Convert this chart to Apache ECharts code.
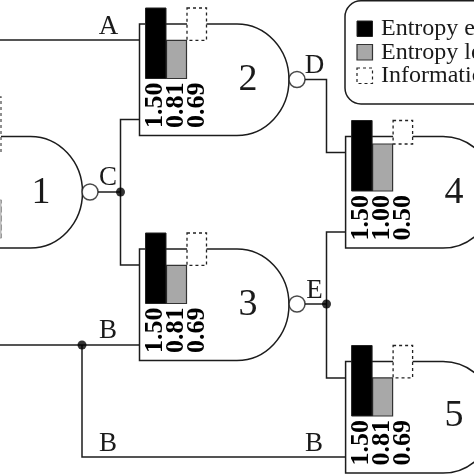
<!DOCTYPE html>
<html><head><meta charset="utf-8">
<style>html,body{margin:0;padding:0;background:#fff}#c{width:474px;height:474px}</style>
<script src="https://cdn.jsdelivr.net/npm/echarts@6/dist/echarts.min.js"></script>
</head><body><div id="c"></div>
<script>
// values
const gateNames = ['2','3','4','5'];
const entropyEmitted = [1.50,1.50,1.50,1.50];
const entropyLeaked = [0.81,0.81,1.00,0.81];
const information = [0.69,0.69,0.50,0.69];
const legendLabels = ['Entropy emitted','Entropy leaked','Information gained'];
const wireLabels = ['A','B','B','B','C','D','E'];
// diagram layout (axis units)
const gateOrigin = [[139.5,24],[139.5,249],[345.6,136.5],[345.6,361.5]];
const firstGateOrigin = [-67,136.5];
const wirePaths = [
  [[0,40],[139.5,40]],
  [[98,192],[120.5,192]],
  [[139.5,119.5],[120.5,119.5],[120.5,265],[139.5,265]],
  [[305,79.5],[326.5,79.5],[326.5,152.5],[345.6,152.5]],
  [[305,304],[326.5,304]],
  [[345.6,232],[326.5,232],[326.5,378],[345.6,378]],
  [[0,345],[139.5,345]],
  [[82,345],[82,457],[345.6,457]]
];
const joints = [[120.5,192],[326.5,304],[82,345]];
const bubbles = [[90,192],[297,79.5],[297,304]];
const labelPos = [[108.5,27],[108,331],[108,443.5],[314,443.5],[108,178],[314.5,66],[314.5,291]];
const UNIT = 47, INK = '#1c1c1c', GRAY = '#a8a8a8', SERIF = '"Liberation Serif",serif', LW = 1.5;

const chart = echarts.init(document.getElementById('c'), null, {renderer:'canvas'});

function gatePath(api, o){
  const [x0,y0] = o, w1 = 97.5, w2 = 149.5, h = 111.5, k = 0.5523;
  const p = (dx,dy)=>api.coord([x0+dx,y0+dy]).map(v=>+v.toFixed(2)).join(' ');
  return 'M'+p(0,0)+'L'+p(w1,0)+
   'C'+p(w1+(w2-w1)*k,0)+' '+p(w2,h/2*(1-k))+' '+p(w2,h/2)+
   'C'+p(w2,h/2*(1+k))+' '+p(w1+(w2-w1)*k,h)+' '+p(w1,h)+
   'L'+p(0,h)+'Z';
}
const gateData = gateOrigin.map((o,i)=>({value:[i]}));
const series = [];
// wires
wirePaths.forEach(w=>series.push({type:'line',data:w,symbol:'none',clip:false,animation:false,z:1,
  lineStyle:{color:INK,width:LW,join:'miter'}}));
// first gate (mostly off the picture) and other gates outline
series.push({type:'custom',coordinateSystem:'cartesian2d',z:2,clip:false,data:[[-1],...gateData.map(d=>d.value)],
  encode:{x:0},
  renderItem(params,api){
    const i = api.value(0);
    const o = i<0 ? firstGateOrigin : gateOrigin[i];
    return {type:'path',shape:{pathData:gatePath(api,o),layout:'cover'},
      style:{fill:'none',stroke:INK,lineWidth:LW}};
  }});
// bars
series.push({type:'custom',coordinateSystem:'cartesian2d',z:3,clip:false,data:gateNames.map((n,i)=>[i]),
  encode:{x:0},
  renderItem(params,api){
    const i = api.value(0), [gx,gy] = gateOrigin[i], base = gy+54.5;
    const rect=(x,v0,v1,w,style)=>{
      const a = api.coord([x,base-v1*UNIT]), b = api.coord([x+w,base-v0*UNIT]);
      return {type:'rect',shape:{x:a[0],y:a[1],width:b[0]-a[0],height:b[1]-a[1]},style};
    };
    const L = entropyLeaked[i], E = entropyEmitted[i], F = information[i];
    const num=(x,val)=>{
      const p = api.coord([gx+x,base+49.5]);
      return {type:'text',x:p[0],y:p[1],rotation:Math.PI/2,
        style:{text:val.toFixed(2),font:'bold 26px '+SERIF,fill:'#000',align:'left',verticalAlign:'middle'}};
    };
    return {type:'group',children:[
      rect(gx+47.5,L,L+F,19.5,{fill:'#fff',stroke:'#222',lineWidth:1.3,lineDash:[3,3]}),
      rect(gx+27,0,L,20,{fill:GRAY,stroke:'#333',lineWidth:1.2}),
      rect(gx+6,0,E,20.5,{fill:'#000',stroke:'#222',lineWidth:1}),
      num(16,E),num(37,L),num(57.5,F)
    ]};
  }});
// fragment of first gate's bars at left edge
series.push({type:'custom',coordinateSystem:'cartesian2d',z:3,clip:false,data:[[0]],encode:{x:0},
  renderItem(params,api){
    const a = api.coord([-19,97]), b = api.coord([1,152]);
    const c = api.coord([-19,200]), d = api.coord([1.5,238]);
    return {type:'group',children:[
      {type:'rect',shape:{x:a[0],y:a[1],width:b[0]-a[0],height:b[1]-a[1]},
        style:{fill:'#fff',stroke:'#555',lineWidth:1.3,lineDash:[3,3]}},
      {type:'rect',shape:{x:c[0],y:c[1],width:d[0]-c[0],height:d[1]-c[1]},
        style:{fill:'#bbb',stroke:'#999',lineWidth:1,lineDash:[6,3]}}
    ]};
  }});
// junctions and inverter bubbles
series.push({type:'scatter',data:bubbles,symbol:'circle',symbolSize:16,z:4,clip:false,animation:false,
  itemStyle:{color:'#fff',borderColor:INK,borderWidth:LW}});
series.push({type:'scatter',data:joints,symbol:'circle',symbolSize:9,z:4,clip:false,animation:false,
  itemStyle:{color:'#000'}});
// text labels
const txt=(data,size)=>({type:'custom',coordinateSystem:'cartesian2d',z:5,clip:false,data:data.map(d=>[d[0],d[1]]),encode:{x:0,y:1},
  renderItem(params,api){
    const p = api.coord([api.value(0),api.value(1)]);
    return {type:'text',x:p[0],y:p[1],style:{text:data[params.dataIndex][2],font:size+'px '+SERIF,fill:'#1a1a1a',align:'center',verticalAlign:'middle'}};
  }});
series.push(txt(wireLabels.map((t,i)=>[labelPos[i][0],labelPos[i][1],t]),27));
series.push(txt([[41,193,'1'],[248,80,'2'],[248,305,'3'],[454,193,'4'],[454,416,'5']],38));
// legend
series.push({type:'custom',coordinateSystem:'cartesian2d',z:6,clip:false,data:[[0]],encode:{x:0},
  renderItem(params,api){
    const o = api.coord([345,0.8]), e = api.coord([560,104]);
    const box=(y,style)=>{const a=api.coord([357,y]),b=api.coord([372.5,y+15.5]);
      return {type:'rect',shape:{x:a[0],y:a[1],width:b[0]-a[0],height:b[1]-a[1]},style};};
    const t=(y,s)=>{const p=api.coord([381,y]);
      return {type:'text',x:p[0],y:p[1],style:{text:s,font:'24px '+SERIF,fill:'#1a1a1a',align:'left',verticalAlign:'middle'}};};
    return {type:'group',children:[
      {type:'rect',shape:{x:o[0],y:o[1],width:e[0]-o[0],height:e[1]-o[1],r:16},style:{fill:'#fff',stroke:INK,lineWidth:LW}},
      box(21,{fill:'#000',stroke:'#222',lineWidth:1}),
      box(44.5,{fill:GRAY,stroke:'#333',lineWidth:1.2}),
      box(68,{fill:'#fff',stroke:'#222',lineWidth:1.2,lineDash:[3,3]}),
      t(29,legendLabels[0]),t(52.5,legendLabels[1]),t(76,legendLabels[2])
    ]};
  }});

chart.setOption({
  animation:false,backgroundColor:'#fff',
  grid:{left:0,right:0,top:0,bottom:0},
  xAxis:{type:'value',min:0,max:474,show:false},
  yAxis:{type:'value',min:0,max:474,inverse:true,show:false},
  series
});
</script></body></html>
